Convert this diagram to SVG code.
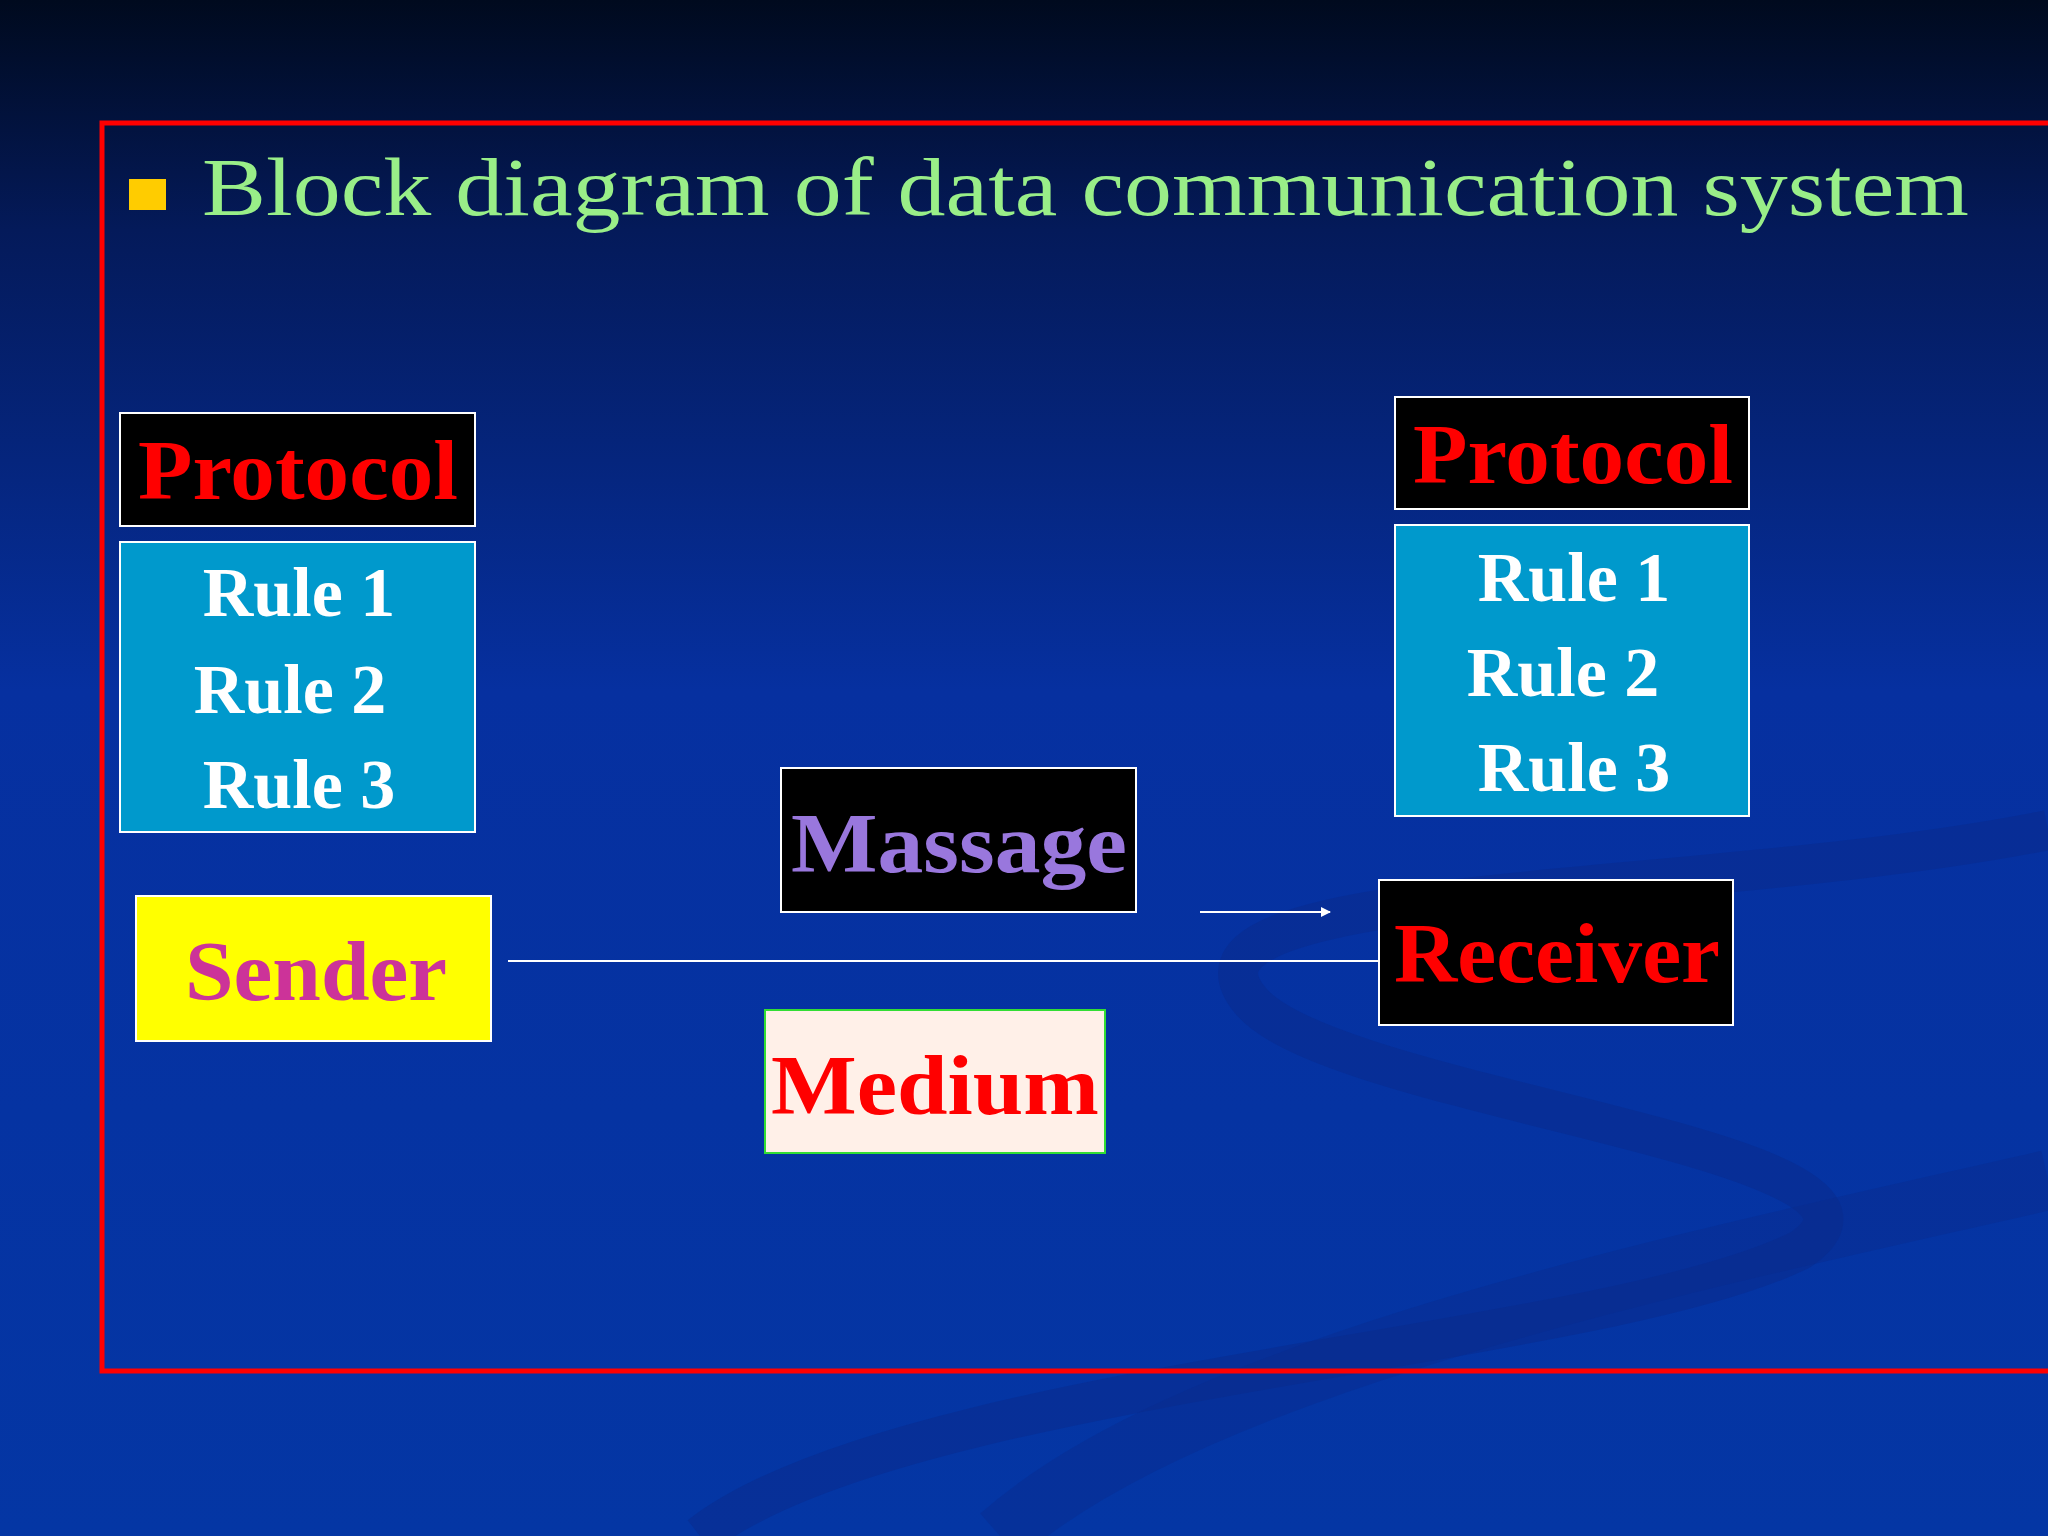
<svg xmlns="http://www.w3.org/2000/svg" width="2048" height="1536" viewBox="0 0 2048 1536">
<defs>
<linearGradient id="bg" x1="0" y1="0" x2="0" y2="1">
<stop offset="0" stop-color="#000a1e"/>
<stop offset="0.15" stop-color="#041a5a"/>
<stop offset="0.45" stop-color="#0630a0"/>
<stop offset="1" stop-color="#0436a4"/>
</linearGradient>
<marker id="ah" viewBox="0 0 10 10" refX="9" refY="5" markerWidth="5" markerHeight="5" orient="auto"><path d="M0,0L10,5L0,10z" fill="#fff"/></marker>
<style>
.lbl{font-family:"Liberation Serif",serif;font-weight:bold;text-anchor:middle}
.rule{fill:#fff;font-size:70px}
.box{stroke:#fff;stroke-width:2}
</style>
</defs>
<rect width="2048" height="1536" fill="url(#bg)"/>
<path d="M2048,830 C1700,900 1150,880 1250,1000 C1330,1100 1950,1150 1800,1250 C1600,1350 900,1380 700,1536" fill="none" stroke="#0a2a8c" stroke-width="40" opacity="0.5"/>
<path d="M2048,1180 C1700,1260 1200,1360 1000,1536" fill="none" stroke="#0a2a8c" stroke-width="60" opacity="0.4"/>
<rect x="102" y="123" width="1950" height="1248" fill="none" stroke="#ff0000" stroke-width="5"/>
<rect x="129" y="179" width="37" height="31" fill="#ffcc00"/>
<text x="202" y="215" font-family="Liberation Serif,serif" font-size="82" fill="#99ee88" textLength="1767" lengthAdjust="spacingAndGlyphs">Block diagram of data communication system</text>
<g id="connectors">
<line x1="508" y1="961" x2="1378" y2="961" stroke="#fff" stroke-width="2"/>
<line x1="1200" y1="912" x2="1330" y2="912" stroke="#fff" stroke-width="2" marker-end="url(#ah)"/>
</g>
<g id="protocol-left"><rect class="box" x="120" y="413" width="355" height="113" fill="#000"/><text class="lbl" x="298" y="499" font-size="84" fill="#ff0000" textLength="320" lengthAdjust="spacingAndGlyphs">Protocol</text></g>
<g id="rules-left"><rect class="box" x="120" y="542" width="355" height="290" fill="#0099cc"/>
<text class="lbl rule" x="299" y="616">Rule 1</text><text class="lbl rule" x="290" y="713">Rule 2</text><text class="lbl rule" x="299" y="808">Rule 3</text></g>
<g id="protocol-right"><rect class="box" x="1395" y="397" width="354" height="112" fill="#000"/><text class="lbl" x="1573" y="483" font-size="84" fill="#ff0000" textLength="320" lengthAdjust="spacingAndGlyphs">Protocol</text></g>
<g id="rules-right"><rect class="box" x="1395" y="525" width="354" height="291" fill="#0099cc"/>
<text class="lbl rule" x="1574" y="601">Rule 1</text><text class="lbl rule" x="1563" y="696">Rule 2</text><text class="lbl rule" x="1574" y="791">Rule 3</text></g>
<g id="massage"><rect class="box" x="781" y="768" width="355" height="144" fill="#000"/><text class="lbl" x="959" y="872" font-size="84" fill="#9977dd" textLength="336" lengthAdjust="spacingAndGlyphs">Massage</text></g>
<g id="sender"><rect class="box" x="136" y="896" width="355" height="145" fill="#ffff00"/><text class="lbl" x="316" y="1000" font-size="84" fill="#cc3399" textLength="262" lengthAdjust="spacingAndGlyphs">Sender</text></g>
<g id="receiver"><rect class="box" x="1379" y="880" width="354" height="145" fill="#000"/><text class="lbl" x="1557" y="982" font-size="84" fill="#ff0000" textLength="326" lengthAdjust="spacingAndGlyphs">Receiver</text></g>
<g id="medium"><rect x="765" y="1010" width="340" height="143" fill="#fff0e8" stroke="#33dd33" stroke-width="2"/><text class="lbl" x="935" y="1114" font-size="84" fill="#ff0000" textLength="328" lengthAdjust="spacingAndGlyphs">Medium</text></g>
</svg>
